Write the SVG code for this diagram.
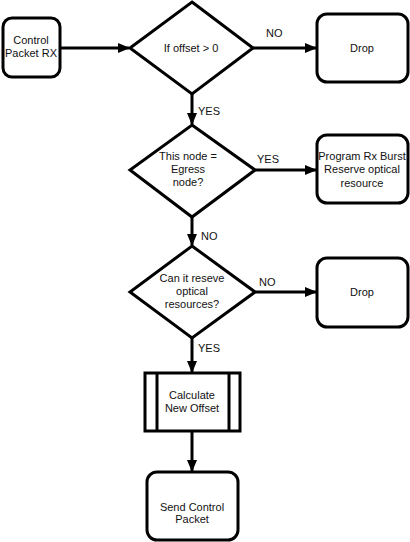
<svg xmlns="http://www.w3.org/2000/svg" width="410" height="542" viewBox="0 0 410 542">
<style>
.s{fill:#fff;stroke:#000;stroke-width:3;stroke-linejoin:miter}
.t{font-family:"Liberation Sans",Arial,sans-serif;font-size:11px;fill:#111;text-anchor:middle}
.l{font-family:"Liberation Sans",Arial,sans-serif;font-size:11px;fill:#111}
.c{fill:none;stroke:#000;stroke-width:3}
</style>
<defs>
<marker id="a" markerUnits="userSpaceOnUse" markerWidth="12" markerHeight="10" refX="11" refY="5" orient="auto">
<path d="M0,0 L12,5 L0,10 Z" fill="#000"/>
</marker>
</defs>
<rect width="410" height="542" fill="#fff"/>
<g id="connectors">
<line class="c" x1="60" y1="48" x2="129" y2="48" marker-end="url(#a)"/>
<line class="c" x1="253" y1="48" x2="316" y2="48" marker-end="url(#a)"/>
<line class="c" x1="192" y1="94" x2="192" y2="124" marker-end="url(#a)"/>
<line class="c" x1="255" y1="170" x2="316" y2="170" marker-end="url(#a)"/>
<line class="c" x1="192" y1="217" x2="192" y2="245" marker-end="url(#a)"/>
<line class="c" x1="255" y1="292" x2="316" y2="292" marker-end="url(#a)"/>
<line class="c" x1="192" y1="338" x2="192" y2="372" marker-end="url(#a)"/>
<line class="c" x1="192" y1="431" x2="192" y2="471" marker-end="url(#a)"/>
<text class="l" x="266" y="37">NO</text>
<text class="l" x="198" y="115">YES</text>
<text class="l" x="257" y="163">YES</text>
<text class="l" x="201" y="240">NO</text>
<text class="l" x="259" y="286">NO</text>
<text class="l" x="198" y="352">YES</text>
</g>
<g id="start">
<rect class="s" x="3" y="18" width="57" height="59" rx="9"/>
<text class="t" x="31" y="44">Control</text>
<text class="t" x="31" y="57">Packet RX</text>
</g>
<g id="d1">
<polygon class="s" points="192,2 253,48 192,94 130,48"/>
<text class="t" x="191" y="52">If offset &gt; 0</text>
</g>
<g id="drop1">
<rect class="s" x="317" y="14" width="91" height="68" rx="10"/>
<text class="t" x="362" y="52">Drop</text>
</g>
<g id="d2">
<polygon class="s" points="192,125 255,170 192,217 130,170"/>
<text class="t" x="188" y="160">This node =</text>
<text class="t" x="188" y="173">Egress</text>
<text class="t" x="188" y="186">node?</text>
</g>
<g id="program">
<rect class="s" x="317" y="135" width="91" height="68" rx="10"/>
<text class="t" x="362" y="160">Program Rx Burst</text>
<text class="t" x="362" y="173">Reserve optical</text>
<text class="t" x="362" y="187">resource</text>
</g>
<g id="d3">
<polygon class="s" points="192,246 255,292 192,338 130,292"/>
<text class="t" x="192" y="282">Can it reseve</text>
<text class="t" x="192" y="295">optical</text>
<text class="t" x="192" y="308">resources?</text>
</g>
<g id="drop2">
<rect class="s" x="317" y="258" width="91" height="69" rx="10"/>
<text class="t" x="362" y="296">Drop</text>
</g>
<g id="calc">
<rect class="s" x="145" y="373" width="95" height="58"/>
<line class="c" x1="157" y1="373" x2="157" y2="431"/>
<line class="c" x1="229" y1="373" x2="229" y2="431"/>
<text class="t" x="192" y="399">Calculate</text>
<text class="t" x="192" y="412">New Offset</text>
</g>
<g id="send">
<rect class="s" x="147" y="472" width="91" height="68" rx="10"/>
<text class="t" x="192" y="511">Send Control</text>
<text class="t" x="192" y="523">Packet</text>
</g>
</svg>
